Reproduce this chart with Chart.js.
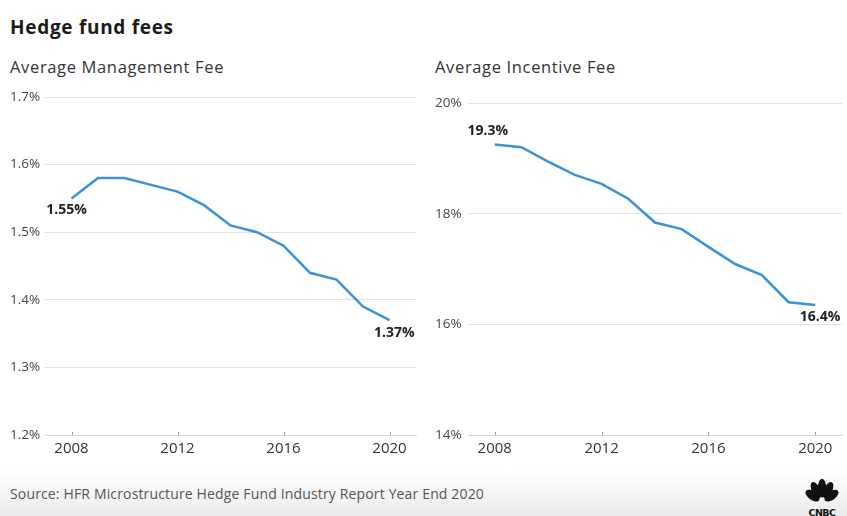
<!DOCTYPE html>
<html>
<head>
<meta charset="utf-8">
<script src="https://cdn.jsdelivr.net/npm/chart.js@4/dist/chart.umd.min.js"></script>
<style>
  body { margin: 0; width: 847px; height: 516px; background: #fff; font-family: "Open Sans", sans-serif; position: relative; overflow: hidden; }
  .title { position: absolute; left: 10px; top: 14px; font-size: 19px; font-weight: bold; color: #1b1b1b; letter-spacing: 0.7px; }
  .sub { position: absolute; top: 55px; font-size: 16.5px; color: #333; letter-spacing: 0.65px; }
  .box { position: absolute; top: 85px; height: 380px; }
  .foot { position: absolute; left: 0; top: 470px; width: 847px; height: 46px; background: linear-gradient(#fff, #ebebeb); }
  .src { position: absolute; left: 10px; top: 14px; font-size: 14px; color: #555; letter-spacing: 0.15px; }
  .logo { position: absolute; left: 799px; top: 8px; width: 46px; text-align: center; }
  .logo span { display: block; font: bold 9.5px "DejaVu Sans", sans-serif; letter-spacing: -0.5px; color: #111; margin-top: -3px; }
</style>
</head>
<body>
<div class="title">Hedge fund fees</div>
<div class="sub" style="left:10px">Average Management Fee</div>
<div class="sub" style="left:435px">Average Incentive Fee</div>
<div class="box" style="left:0;width:425px"><canvas id="mgmt"></canvas></div>
<div class="box" style="left:425px;width:422px"><canvas id="incent"></canvas></div>
<div class="foot">
  <div class="src">Source: HFR Microstructure Hedge Fund Industry Report Year End 2020</div>
  <div class="logo">
    <svg width="42" height="27" viewBox="0 0 30 20">
      <g fill="#111">
        <ellipse cx="8" cy="13" rx="3.3" ry="6" transform="rotate(-55 8 13)"/>
        <ellipse cx="10.5" cy="9" rx="3.1" ry="6.5" transform="rotate(-25 10.5 9)"/>
        <ellipse cx="15" cy="7.5" rx="3.1" ry="7"/>
        <ellipse cx="19.5" cy="9" rx="3.1" ry="6.5" transform="rotate(25 19.5 9)"/>
        <ellipse cx="22" cy="13" rx="3.3" ry="6" transform="rotate(55 22 13)"/>
      </g>
    </svg>
    <span>CNBC</span>
  </div>
</div>
<script>
// data
const years = [2008, 2009, 2010, 2011, 2012, 2013, 2014, 2015, 2016, 2017, 2018, 2019, 2020];
const mgmtFee = [1.55, 1.58, 1.58, 1.57, 1.56, 1.54, 1.51, 1.50, 1.48, 1.44, 1.43, 1.39, 1.37];
const incentiveFee = [19.25, 19.2, 18.94, 18.7, 18.54, 18.27, 17.84, 17.72, 17.4, 17.09, 16.89, 16.4, 16.35];
const yearTicks = [2008, 2012, 2016, 2020];
const mgmtLabels = ['1.55%', '1.37%'];
const incentiveLabels = ['19.3%', '16.4%'];

const LINE = '#3a92d8';
const FONT = '"Open Sans", sans-serif';

// labels at first and last point
const endLabels = {
  id: 'endLabels',
  afterDatasetsDraw(chart, args, opts) {
    const meta = chart.getDatasetMeta(0);
    const ctx = chart.ctx;
    ctx.save();
    ctx.font = 'bold 14px ' + FONT;
    ctx.fillStyle = '#222';
    ctx.textBaseline = 'middle';
    opts.items.forEach(it => {
      const p = meta.data[it.index];
      ctx.textAlign = it.align;
      ctx.fillText(it.text, p.x + it.dx, p.y + it.dy);
    });
    ctx.restore();
  }
};

// small tick marks above the x axis
const upTicks = {
  id: 'upTicks',
  afterDraw(chart) {
    const x = chart.scales.x;
    const ctx = chart.ctx;
    const y = chart.chartArea.bottom;
    ctx.save();
    ctx.strokeStyle = '#999';
    ctx.lineWidth = 1;
    x.ticks.forEach(t => {
      const px = Math.round(x.getPixelForValue(t.value)) + 0.5;
      ctx.beginPath();
      ctx.moveTo(px, y);
      ctx.lineTo(px, y - 3);
      ctx.stroke();
    });
    ctx.restore();
  }
};

function makeChart(id, values, opt) {
  new Chart(document.getElementById(id), {
    type: 'line',
    data: {
      datasets: [{
        data: years.map((y, i) => ({ x: y, y: values[i] })),
        borderColor: LINE,
        borderWidth: 2.5,
        pointRadius: 0,
        tension: 0,
        fill: false
      }]
    },
    options: {
      responsive: true,
      maintainAspectRatio: false,
      animation: false,
      layout: { padding: opt.padding },
      plugins: {
        legend: { display: false },
        tooltip: { enabled: false },
        endLabels: { items: opt.labels }
      },
      scales: {
        x: {
          type: 'linear',
          min: 2007,
          max: 2021,
          afterBuildTicks: s => { s.ticks = yearTicks.map(v => ({ value: v })); },
          afterFit: s => { s.height = 30; },
          grid: { display: false, drawTicks: false },
          border: { color: '#d6d6d6' },
          ticks: { color: '#333', padding: 5, font: { family: FONT, size: 15 }, callback: v => String(v) }
        },
        y: {
          min: opt.min,
          max: opt.max,
          afterFit: s => { s.width = opt.yWidth; },
          grid: { color: '#e2e2e2', drawTicks: false },
          border: { display: false },
          ticks: {
            stepSize: opt.step,
            crossAlign: 'far',
            color: '#444',
            padding: 0,
            font: { family: FONT, size: 13.5 },
            callback: v => opt.fmt(v)
          }
        }
      }
    },
    plugins: [endLabels, upTicks]
  });
}

makeChart('mgmt', mgmtFee, {
  min: 1.2, max: 1.7, step: 0.1, yWidth: 35,
  fmt: v => v.toFixed(1) + '%',
  padding: { top: 12, left: 10, right: 9, bottom: 0 },
  labels: [
    { index: 0, text: mgmtLabels[0], align: 'center', dx: -5, dy: 12 },
    { index: years.length - 1, text: mgmtLabels[1], align: 'right', dx: 25, dy: 13 }
  ]
});

makeChart('incent', incentiveFee, {
  min: 14, max: 20, step: 2, yWidth: 33,
  fmt: v => Math.round(v) + '%',
  padding: { top: 18, left: 10, right: 5, bottom: 0 },
  labels: [
    { index: 0, text: incentiveLabels[0], align: 'center', dx: -7, dy: -13 },
    { index: years.length - 1, text: incentiveLabels[1], align: 'right', dx: 25, dy: 12 }
  ]
});
</script>
</body>
</html>
